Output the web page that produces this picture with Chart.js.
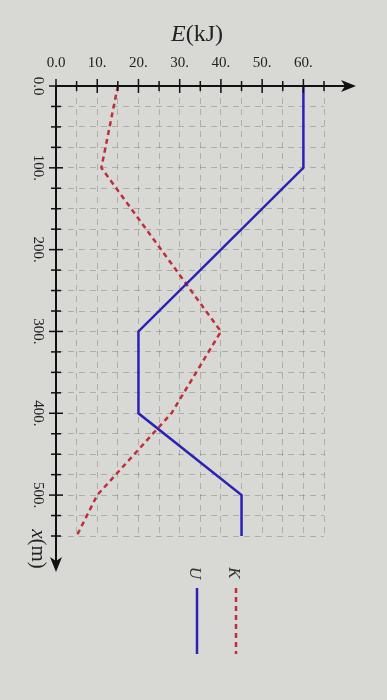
<!DOCTYPE html>
<html>
<head>
<meta charset="utf-8">
<script src="https://cdn.jsdelivr.net/npm/chart.js@4"></script>
<style>
  html, body { margin: 0; padding: 0; background: #d8d8d5; }
  #wrap { width: 387px; height: 700px; position: relative; }
</style>
</head>
<body>
<div id="wrap"><canvas id="energy-chart"></canvas></div>
<script>
// values: energy (kJ) against position x (m)
const uPositions = [0, 100, 300, 400, 500, 550];
const uEnergies = [60, 60, 20, 20, 45, 45];
const kPositions = [0, 100, 300, 400, 500, 550];
const kEnergies = [15, 11, 40, 28, 10, 5];

// labelled ticks on each axis
const energyTicks = [0, 10, 20, 30, 40, 50, 60];
const positionTicks = [0, 100, 200, 300, 400, 500];

const uColor = '#2b22b5';
const kColor = '#bf2f38';
const serif = '"Liberation Serif", "DejaVu Serif", serif';

function fmt(v) {
    return v === 0 ? '0.0' : v + '.';
}

function toPoints(xs, ys) {
    return xs.map((p, i) => ({ x: ys[i], y: p }));
}

// text made of upright and italic pieces, optionally rotated
function drawLabel(ctx, parts, x, y, angle) {
    ctx.save();
    ctx.translate(x, y);
    ctx.rotate(angle);
    let total = 0;
    parts.forEach(p => { ctx.font = p.font; total += ctx.measureText(p.text).width; });
    let cx = -total / 2;
    ctx.textAlign = 'left';
    ctx.textBaseline = 'middle';
    parts.forEach(p => {
        ctx.font = p.font;
        ctx.fillText(p.text, cx, 0);
        cx += ctx.measureText(p.text).width;
    });
    ctx.restore();
}

function arrowHead(ctx, tx, ty, dir) {
    // dir: 'right' or 'down'
    ctx.beginPath();
    if (dir === 'right') {
        ctx.moveTo(tx, ty);
        ctx.lineTo(tx - 15, ty - 6);
        ctx.lineTo(tx - 11, ty);
        ctx.lineTo(tx - 15, ty + 6);
    } else {
        ctx.moveTo(tx, ty);
        ctx.lineTo(tx - 6, ty - 15);
        ctx.lineTo(tx, ty - 11);
        ctx.lineTo(tx + 6, ty - 15);
    }
    ctx.closePath();
    ctx.fill();
}

const axisDecor = {
    id: 'axisDecor',
    afterDraw(chart) {
        const ctx = chart.ctx;
        const area = chart.chartArea;
        const xs = chart.scales.x;
        const ys = chart.scales.y;
        ctx.save();
        ctx.strokeStyle = '#111';
        ctx.fillStyle = '#111';

        // tick marks crossing the axes
        ctx.lineWidth = 1.5;
        xs.ticks.forEach(t => {
            const px = xs.getPixelForValue(t.value);
            const h = t.value % 10 === 0 ? 7 : 5;
            ctx.beginPath();
            ctx.moveTo(px, area.top - h);
            ctx.lineTo(px, area.top + h);
            ctx.stroke();
        });
        ys.ticks.forEach(t => {
            const py = ys.getPixelForValue(t.value);
            const h = t.value % 100 === 0 ? 7 : 5;
            ctx.beginPath();
            ctx.moveTo(area.left - h, py);
            ctx.lineTo(area.left + h, py);
            ctx.stroke();
        });

        // axes run past the plot and end in arrows
        ctx.lineWidth = 2;
        ctx.beginPath();
        ctx.moveTo(area.left, area.top);
        ctx.lineTo(area.right + 22, area.top);
        ctx.moveTo(area.left, area.top);
        ctx.lineTo(area.left, area.bottom + 26);
        ctx.stroke();
        arrowHead(ctx, area.right + 32, area.top, 'right');
        arrowHead(ctx, area.left, area.bottom + 36, 'down');

        // axis titles
        ctx.fillStyle = '#222';
        drawLabel(ctx, [
            { text: 'E', font: 'italic 24px ' + serif },
            { text: '(kJ)', font: '24px ' + serif }
        ], 197, 35, 0);
        drawLabel(ctx, [
            { text: 'x', font: 'italic 21px ' + serif },
            { text: '(m)', font: '21px ' + serif }
        ], area.left - 18, area.bottom + 13, Math.PI / 2);

        // legend, turned like the rest of the page
        const legend = [
            { name: 'K', color: kColor, dash: [5, 4], x: 236 },
            { name: 'U', color: uColor, dash: [], x: 197 }
        ];
        legend.forEach(item => {
            ctx.fillStyle = '#333';
            drawLabel(ctx, [{ text: item.name, font: 'italic 17px ' + serif }], item.x - 3, area.bottom + 37, Math.PI / 2);
            ctx.strokeStyle = item.color;
            ctx.lineWidth = 2.5;
            ctx.setLineDash(item.dash);
            ctx.beginPath();
            ctx.moveTo(item.x, area.bottom + 52);
            ctx.lineTo(item.x, area.bottom + 118);
            ctx.stroke();
            ctx.setLineDash([]);
        });
        ctx.restore();
    }
};

const ctx = document.getElementById('energy-chart').getContext('2d');
new Chart(ctx, {
    type: 'scatter',
    data: {
        datasets: [
            {
                label: 'U',
                data: toPoints(uPositions, uEnergies),
                showLine: true,
                borderColor: uColor,
                borderWidth: 2.5,
                pointRadius: 0,
                tension: 0
            },
            {
                label: 'K',
                data: toPoints(kPositions, kEnergies),
                showLine: true,
                borderColor: kColor,
                borderWidth: 2.5,
                borderDash: [5, 4],
                pointRadius: 0,
                tension: 0
            }
        ]
    },
    options: {
        responsive: true,
        maintainAspectRatio: false,
        animation: false,
        layout: { padding: { left: 0, top: 0, right: 63, bottom: 164 } },
        plugins: {
            legend: { display: false },
            tooltip: { enabled: false }
        },
        scales: {
            x: {
                type: 'linear',
                position: 'top',
                min: 0,
                max: 65,
                afterFit: (scale) => { scale.height = 86; },
                ticks: {
                    stepSize: 5,
                    autoSkip: false,
                    maxRotation: 0,
                    padding: 14,
                    color: '#222',
                    font: { family: serif, size: 15 },
                    callback: (v) => energyTicks.includes(v) ? fmt(v) : ''
                },
                grid: {
                    color: 'rgba(60,60,60,0.28)',
                    lineWidth: 1,
                    drawTicks: false
                },
                border: { display: true, color: '#111', width: 2, dash: [6, 5] }
            },
            y: {
                type: 'linear',
                reverse: true,
                min: 0,
                max: 550,
                afterFit: (scale) => { scale.width = 56; },
                ticks: {
                    stepSize: 25,
                    autoSkip: false,
                    minRotation: -90,
                    maxRotation: -90,
                    crossAlign: 'center',
                    padding: 5,
                    color: '#222',
                    font: { family: serif, size: 15 },
                    callback: (v) => positionTicks.includes(v) ? fmt(v) : ''
                },
                grid: {
                    color: 'rgba(60,60,60,0.28)',
                    lineWidth: 1,
                    drawTicks: false
                },
                border: { display: true, color: '#111', width: 2, dash: [6, 5] }
            }
        }
    },
    plugins: [axisDecor]
});
</script>
</body>
</html>
